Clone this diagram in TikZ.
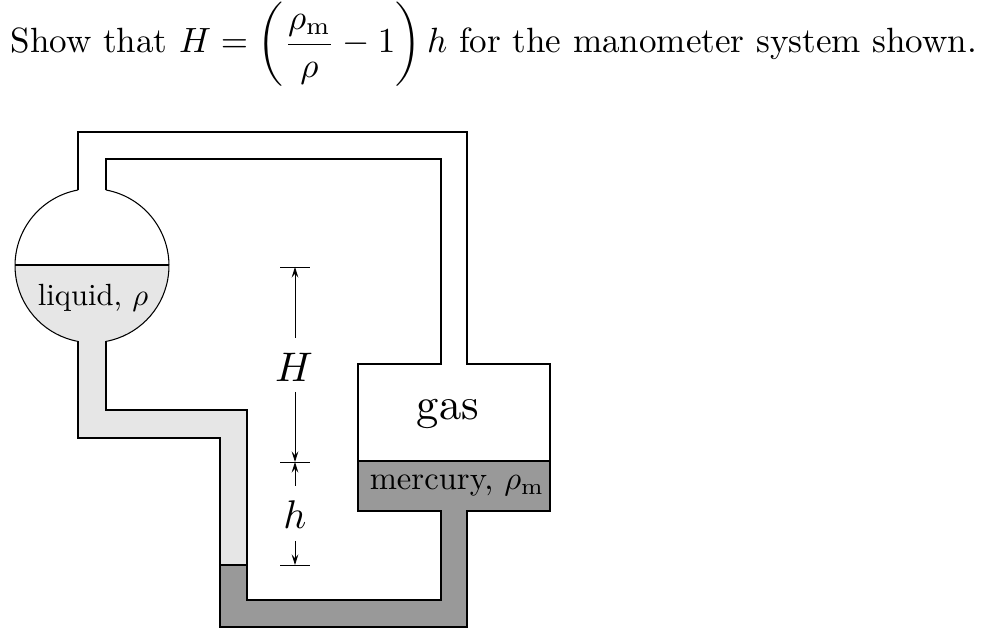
\documentclass[tikz,border=0pt]{standalone}
\usepackage{amsmath}
\usetikzlibrary{positioning,arrows.meta}
\tikzset{
  wall/.style={draw=black, line width=0.8pt, line join=miter},
  tick/.style={draw=black, line width=0.7pt},
  dim/.style={draw=black, line width=0.6pt, -{Stealth[length=8pt,width=5pt,inset=3pt]}},
  lbl/.style={inner sep=0pt, scale=#1},
}
\definecolor{liquidgray}{HTML}{E6E6E6}
\definecolor{mercurygray}{HTML}{999999}

\begin{document}
\begin{tikzpicture}[x=0.75pt,y=0.75pt]
\useasboundingbox (0,0) rectangle (986,642);

% fluids
\fill[liquidgray] (15,377) arc[start angle=180,end angle=259.5,radius=77] -- (78,204) -- (220,204)
  -- (220,77) -- (247,77) -- (247,232) -- (106,232) -- (106,301) arc[start angle=-79.5,end angle=0,radius=77] -- cycle;
\fill[mercurygray] (220,77) -- (220,15) -- (467,15) -- (467,131) -- (550,131) -- (550,181)
  -- (358,181) -- (358,131) -- (441,131) -- (441,42) -- (247,42) -- (247,77) -- cycle;

% outer wall
\draw[wall] (78,452) -- (78,510) -- (467,510) -- (467,278) -- (550,278) -- (550,131) -- (467,131)
  -- (467,15) -- (220,15) -- (220,204) -- (78,204) -- (78,301);
% inner wall
\draw[wall] (106,452) -- (106,483) -- (441,483) -- (441,278) -- (358,278) -- (358,131) -- (441,131)
  -- (441,42) -- (247,42) -- (247,232) -- (106,232) -- (106,301);
% bulb
\draw[wall] (78,452) arc[start angle=100.5,end angle=259.5,radius=77];
\draw[wall] (106,452) arc[start angle=79.5,end angle=-79.5,radius=77];
\draw[wall] (15,377) -- (169,377);
\draw[wall] (358,181) -- (550,181);
\draw[wall] (220,77) -- (247,77);

% heights
\coordinate (Htop) at (295,375);
\coordinate (Hbot) at (295,180);
\coordinate (hbot) at (295,77);
\draw[tick] (280,375) -- (310,375);
\draw[tick] (280,180) -- (310,180);
\draw[tick] (280,77) -- (310,77);

\node[lbl=3.1] (H) at (294,275) {$H$};
\node[lbl=3] (h) at (295,127) {$h$};
\draw[dim] (295,250) -- (Hbot);
\draw[dim] (295,304) -- (Htop);
\draw[dim] (295,156) -- (Hbot);
\draw[dim] (295,101) -- (hbot);

\node[lbl=2.3] (liquid) at (93,344) {liquid, $\rho$};
\node[lbl=3.35] (gas) at (448,228) {gas};
\node[lbl=2.45] (mercury) at (457,156) {mercury, $\rho_{\mathrm{m}}$};

\node[lbl=2.63,anchor=base west] (title) at (10,589)
  {Show that $H=\left(\dfrac{\rho_{\mathrm{m}}}{\rho}-1\right)h$ for the manometer system shown.};
\end{tikzpicture}
\end{document}
